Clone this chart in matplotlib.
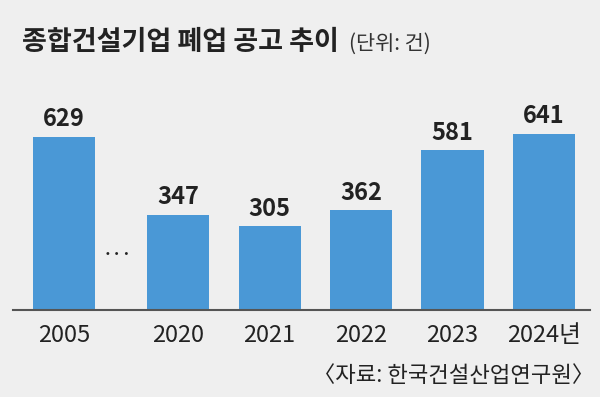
import matplotlib
matplotlib.use('Agg')
import matplotlib.pyplot as plt

plt.rcParams['font.family'] = ['Noto Sans CJK KR', 'DejaVu Sans']

# Data
years = ['2005', '2020', '2021', '2022', '2023', '2024년']
counts = [629, 347, 305, 362, 581, 641]

bg = '#efefef'
bar_color = '#4a98d6'

fig = plt.figure(figsize=(6, 3.97), dpi=100, facecolor=bg)
ax = fig.add_axes([13/600, 87/397, 577/600, 220/397])
ax.set_facecolor(bg)

# 2005 sits a bit further left, with a gap marked by "..."
xpos = [0] + [1.25 + i for i in range(len(years) - 1)]
bars = ax.bar(xpos, counts, width=0.68, color=bar_color)

for x, v in zip(xpos, counts):
    ax.annotate(str(v), (x, v), xytext=(0, 4), textcoords='offset points',
                ha='center', va='bottom', fontsize=17, fontweight='heavy',
                color='#222222')

ax.text((xpos[0] + xpos[1]) / 2 - 0.04, 200, '···', ha='center', va='center',
        fontsize=12, fontweight='bold', color='#222222')

ax.set_xlim(-0.558, 5.755)
ax.set_ylim(0, 800)
ax.set_xticks(xpos)
ax.set_xticklabels(years, fontsize=17, color='#222222')
ax.tick_params(axis='x', length=0, pad=10)
ax.set_yticks([])
for s in ['top', 'left', 'right']:
    ax.spines[s].set_visible(False)
ax.spines['bottom'].set_color('#555555')
ax.spines['bottom'].set_linewidth(1.5)

# Title
fig.text(22/600, 1 - 42/397, '종합건설기업 폐업 공고 추이', fontsize=19.5,
         fontweight='heavy', color='#222222', va='center', ha='left')
fig.text(349/600, 1 - 44/397, '(단위: 건)', fontsize=15, color='#333333',
         va='center', ha='left')

# Source
fig.text(594/600, 1 - 375/397, '〈자료: 한국건설산업연구원〉', fontsize=16,
         color='#222222', va='center', ha='right')

fig.savefig('out.png', dpi=100, facecolor=bg)
